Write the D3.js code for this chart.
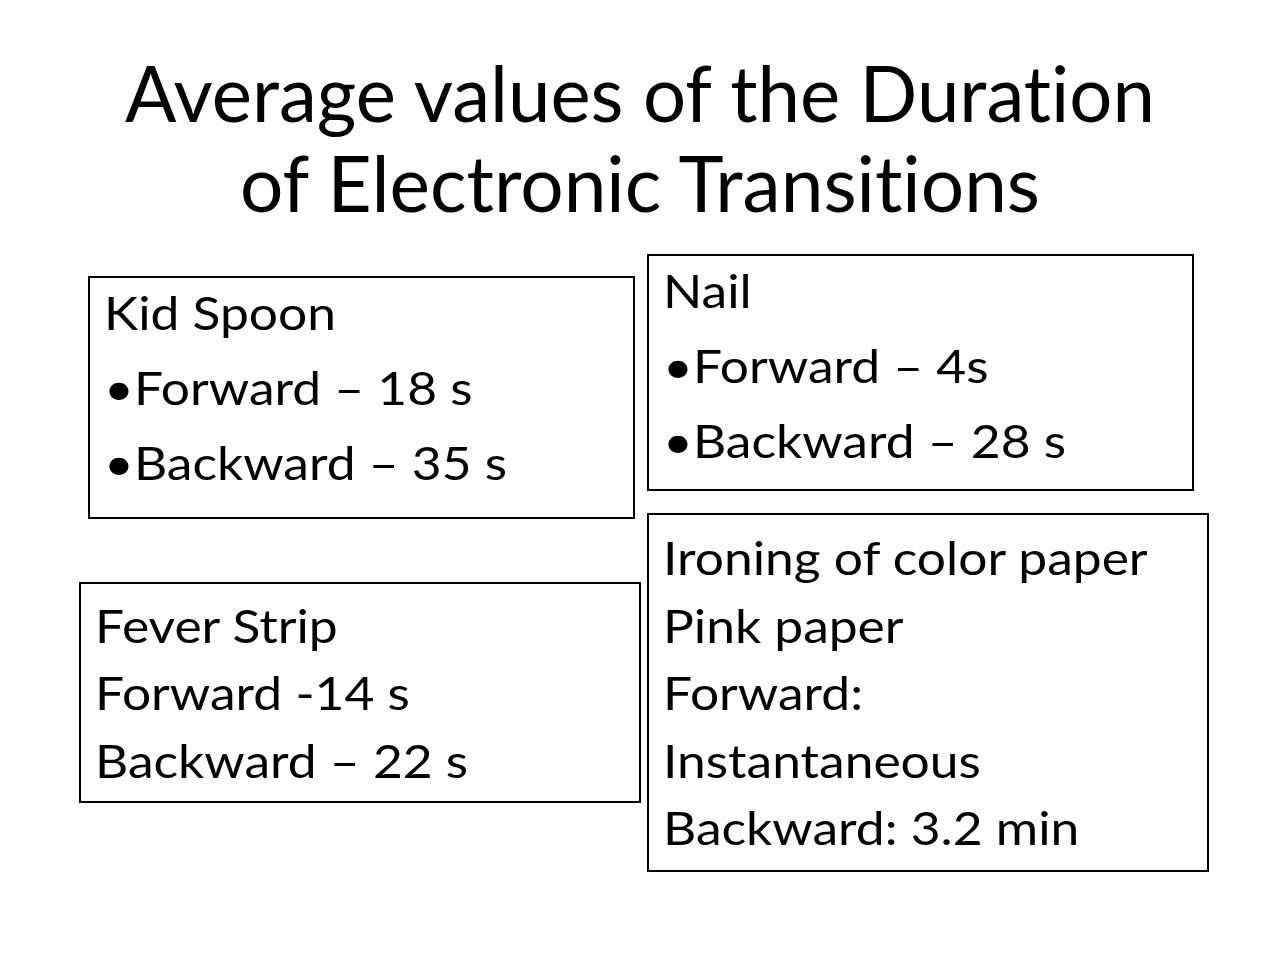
<!DOCTYPE html>
<html><head><meta charset="utf-8">
<script src="https://cdn.jsdelivr.net/npm/d3@7"></script>
<style>body{margin:0;background:#fff}text{font-variant-ligatures:none}</style>
</head><body>
<svg id="slide" width="1280" height="960"></svg>
<script>
// slide content
const titleLines = ["Average values of the Duration", "of Electronic Transitions"];
const spoonLines = ["Kid Spoon", "•Forward – 18 s", "•Backward – 35 s"];
const nailLines = ["Nail", "•Forward – 4s", "•Backward – 28 s"];
const feverLines = ["Fever Strip", "Forward -14 s", "Backward – 22 s"];
const paperLines = ["Ironing of color paper", "Pink paper", "Forward:", "Instantaneous", "Backward: 3.2 min"];

const svg = d3.select("#slide");
const font = "Lato, 'Open Sans', sans-serif";

// title, stretched to the slide widths
const titleBoxes = [{x0: 125, x1: 1155, y: 122}, {x0: 240, x1: 1040, y: 212}];
svg.selectAll(".title")
  .data(titleLines)
  .enter()
  .append("text")
  .attr("class", "title")
  .attr("x", (d, i) => titleBoxes[i].x0)
  .attr("y", (d, i) => titleBoxes[i].y)
  .attr("textLength", (d, i) => titleBoxes[i].x1 - titleBoxes[i].x0)
  .attr("lengthAdjust", "spacingAndGlyphs")
  .style("font-family", font)
  .style("font-size", "78px")
  .style("fill", "#000")
  .text(d => d);

const boxes = [
  {lines: spoonLines, x: 89, y: 277, w: 545, h: 241, tx: 104, ty: [330, 405, 480]},
  {lines: nailLines, x: 648, y: 255, w: 545, h: 235, tx: 663, ty: [308, 383, 458]},
  {lines: feverLines, x: 80, y: 583, w: 560, h: 219, tx: 95, ty: [643, 710, 778]},
  {lines: paperLines, x: 648, y: 514, w: 560, h: 357, tx: 663, ty: [575, 643, 710, 778, 845]}
];

const g = svg.selectAll(".box")
  .data(boxes)
  .enter()
  .append("g")
  .attr("class", "box");

g.append("rect")
  .attr("x", d => d.x)
  .attr("y", d => d.y)
  .attr("width", d => d.w)
  .attr("height", d => d.h)
  .style("fill", "none")
  .style("stroke", "#000")
  .style("stroke-width", 2);

g.selectAll("text")
  .data(d => d.lines.map((t, i) => ({t, x: d.tx, y: d.ty[i]})))
  .enter()
  .append("text")
  .attr("x", d => d.x)
  .attr("y", d => d.y)
  .style("font-family", font)
  .style("font-size", "46px")
  .style("fill", "#000")
  .text(d => d.t)
  .each(function () {
    // widen a bit to match the original face
    const len = this.getComputedTextLength();
    d3.select(this).attr("textLength", len * 1.12).attr("lengthAdjust", "spacingAndGlyphs");
  });
</script>
</body></html>
